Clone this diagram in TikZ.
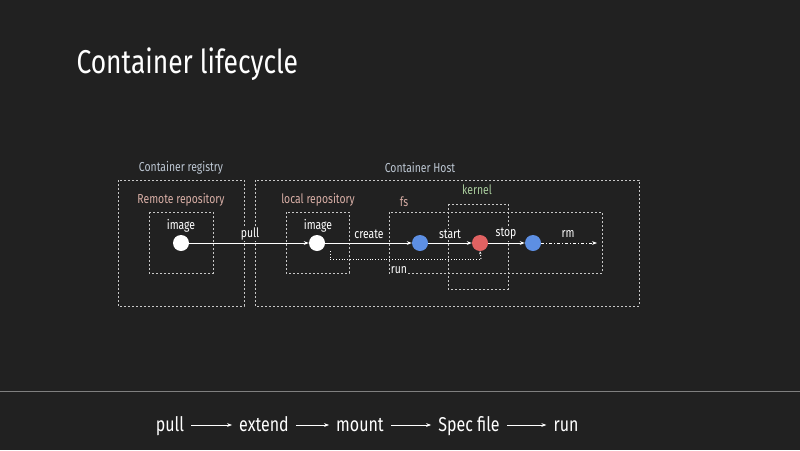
\documentclass[tikz,border=0pt]{standalone}
\usepackage{fontspec}
\setmainfont{Fira Sans}
\newfontfamily\cond{Fira Sans}[FakeStretch=0.8]
\usetikzlibrary{arrows.meta}
\definecolor{bg}{HTML}{212121}
\definecolor{boxc}{HTML}{C8C8C8}
\definecolor{pinkc}{HTML}{D9AFA6}
\definecolor{greyc}{HTML}{BCC6D2}
\definecolor{greenc}{HTML}{A8CC9C}
\definecolor{bluec}{HTML}{5D8FE3}
\definecolor{redc}{HTML}{E06262}
\tikzset{
 dbox/.style={draw=boxc,dashed,dash pattern=on 2pt off 2pt,line width=0.6pt},
 lab/.style={text=white,font=\cond\fontsize{13}{15}\selectfont,inner sep=1pt},
 dot/.style={circle,minimum size=16pt,inner sep=0pt},
 arr/.style={-{Stealth[length=5pt]},white,line width=1pt},
 btxt/.style={text=white,font=\cond\fontsize{20}{24}\selectfont,inner sep=2pt,anchor=base},
}
\begin{document}
\begin{tikzpicture}[x=1pt,y=-1pt]
\fill[bg] (0,0) rectangle (800,450);
\useasboundingbox (0,0) rectangle (800,450);
\node[anchor=west,text=white,font=\cond\fontsize{33}{36}\selectfont] (title) at (73,64) {Container lifecycle};
% boxes
\draw[dbox] (118,180) rectangle (244,306);
\draw[dbox] (149,212) rectangle (213,273);
\draw[dbox] (255,180) rectangle (639,306);
\draw[dbox] (286,212) rectangle (349,273);
\draw[dbox] (389,212) rectangle (602,273);
\draw[dbox] (448,204) rectangle (508,289);
\node[lab,text=greyc] (lreg) at (181,168) {Container registry};
\node[lab,text=greyc] (lhost) at (420,168) {Container Host};
\node[lab,text=pinkc] (lrem) at (181,200) {Remote repository};
\node[lab,text=pinkc] (lloc) at (318,200) {local repository};
\node[lab,text=pinkc] (lfs) at (404,202) {fs};
\node[lab,text=greenc] (lker) at (477,190) {kernel};
\node[lab] (li1) at (181,226) {image};
\node[lab] (li2) at (318,226) {image};
% nodes
\node[dot,fill=white] (img1) at (181,243) {};
\node[dot,fill=white] (img2) at (317,243) {};
\node[dot,fill=bluec] (c1) at (420,243) {};
\node[dot,fill=redc] (c2) at (480,243) {};
\node[dot,fill=bluec] (c3) at (533,243) {};
\coordinate (rmend) at (597,243);
\coordinate (rA) at (330,259);
\coordinate (rB) at (481,259);
% arrows
\draw[arr] (img1) -- (img2);
\draw[arr] (img2) -- (c1);
\draw[arr] (c1) -- (c2);
\draw[arr] (c2) -- (c3);
\draw[arr,dash pattern=on 3pt off 2pt on 1pt off 2pt] (c3) -- (rmend);
\draw[white,dotted,line width=0.8pt] (330,251) -- (rA) -- (rB);
\draw[arr,dotted,-{Stealth[length=3pt]}] (rB) -- (c2.south);
\node[lab,fill=bg] (lpull) at (250,234) {pull};
\node[lab,fill=bg] (lcreate) at (369,234) {create};
\node[lab,fill=bg] (lstart) at (450,234) {start};
\node[lab,fill=bg] (lstop) at (506,234) {stop};
\node[lab,fill=bg] (lrm) at (568,234) {rm};
\node[lab,fill=bg] (lrun) at (399,270) {run};
% bottom
\draw[gray,line width=0.6pt] (0,391) -- (800,391);
\node[btxt] (b1) at (170,431) {pull};
\node[btxt] (b2) at (264,431) {extend};
\node[btxt] (b3) at (360,431) {mount};
\node[btxt] (b4) at (469,431) {Spec file};
\node[btxt] (b5) at (566,431) {run};
\foreach \a/\b in {b1/b2,b2/b3,b3/b4,b4/b5}
  \draw[arr,line width=0.7pt] ([xshift=5pt,yshift=6pt]\a.base east) -- ([xshift=-5pt,yshift=6pt]\b.base west);
\end{tikzpicture}
\end{document}
